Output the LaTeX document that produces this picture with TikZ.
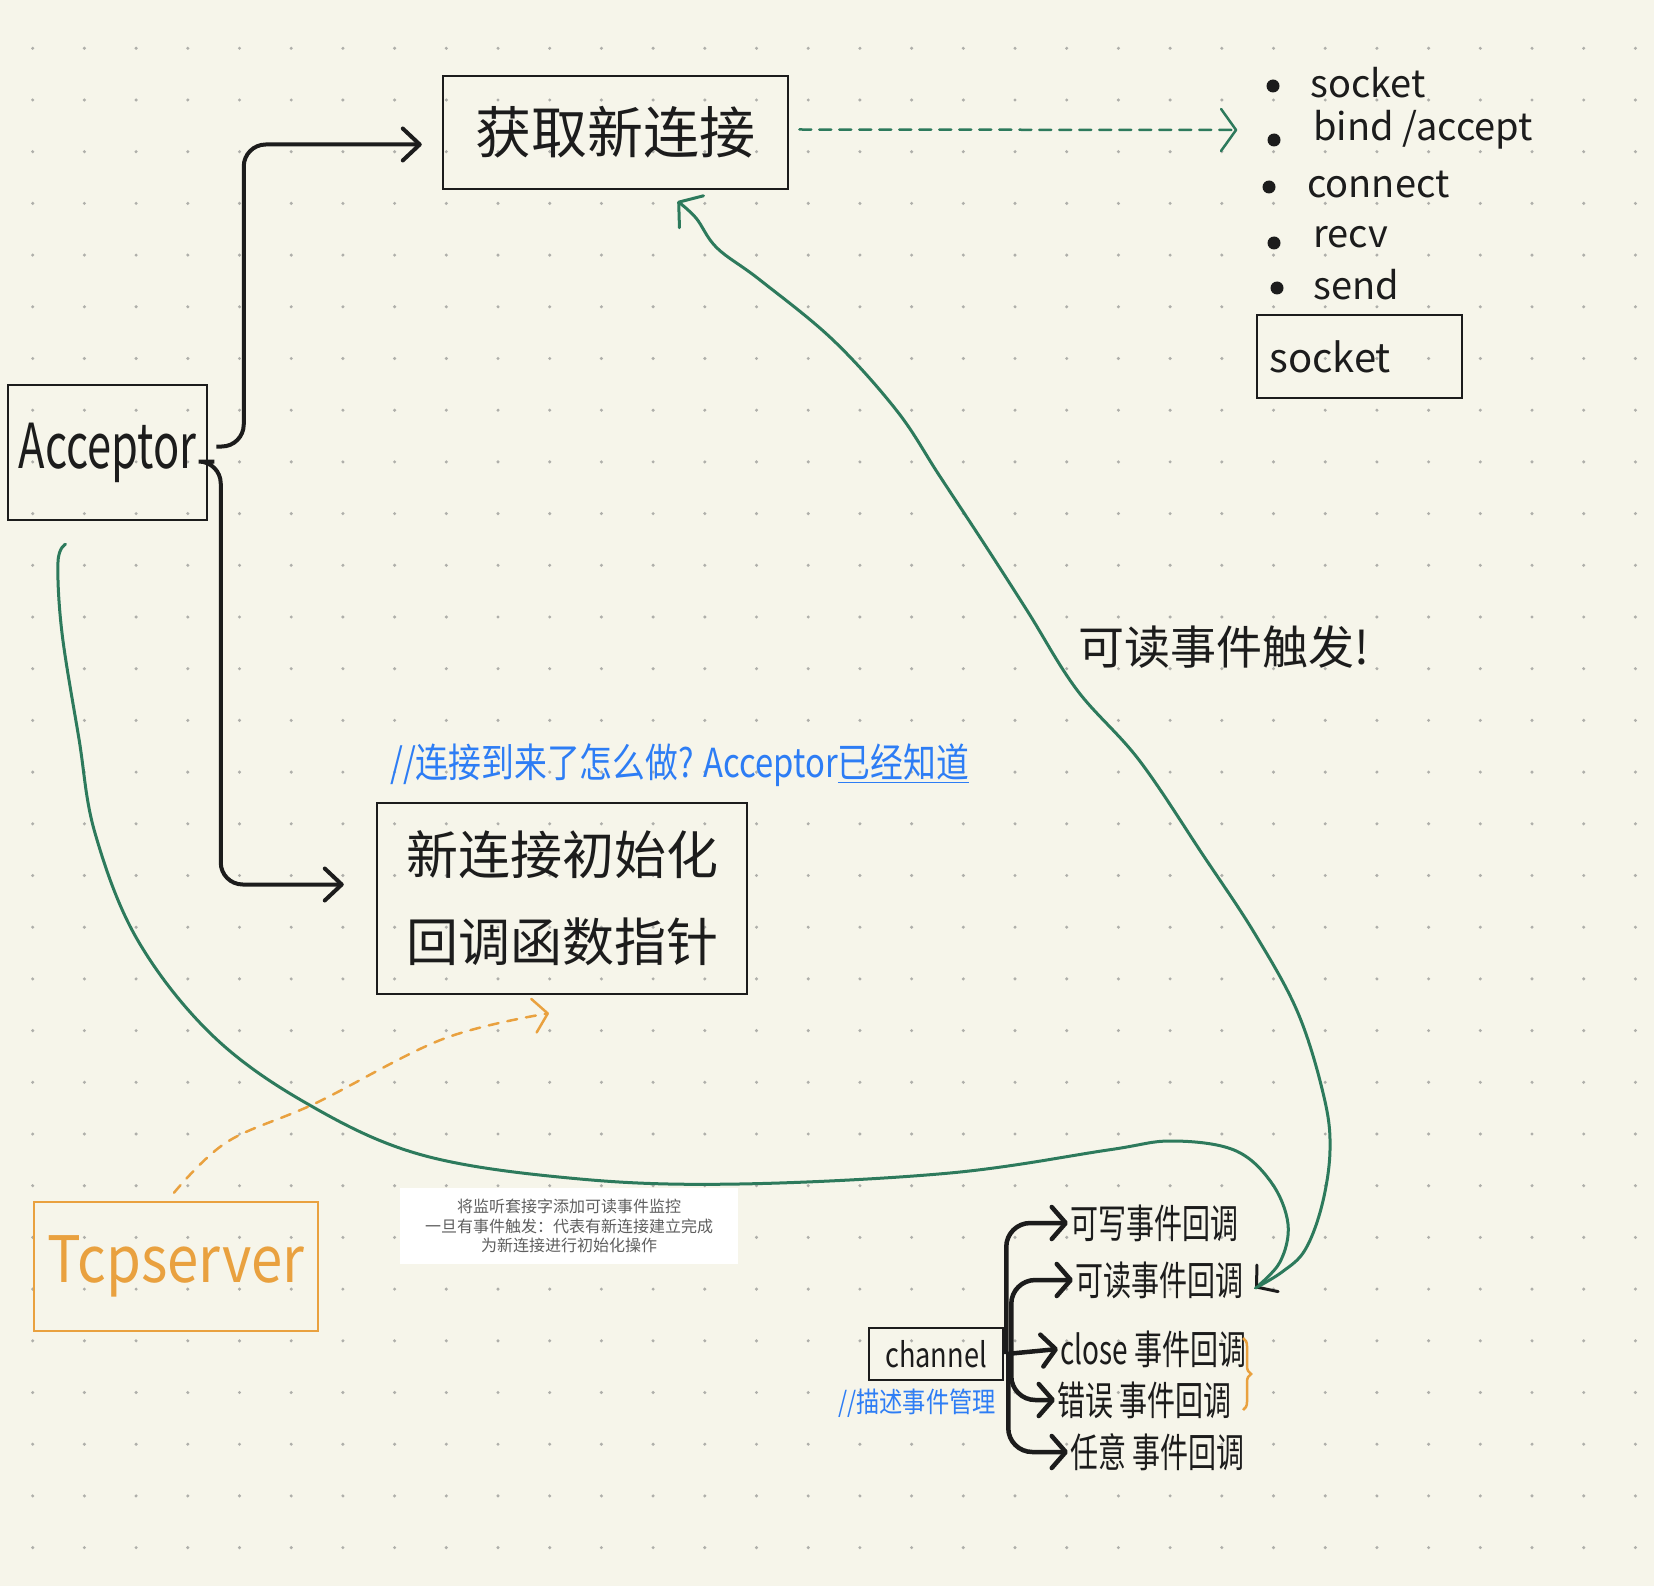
\documentclass[tikz,border=0pt]{standalone}
\usepackage{fontspec}
\setmainfont{Noto Sans CJK SC}
\usetikzlibrary{arrows.meta,calc,decorations.pathreplacing}
\definecolor{paper}{RGB}{246,245,234}
\definecolor{dotc}{RGB}{175,175,170}
\definecolor{ink}{RGB}{28,28,28}
\definecolor{gc}{RGB}{45,122,92}
\definecolor{oc}{RGB}{233,161,63}
\definecolor{bc}{RGB}{45,125,245}
\definecolor{gt}{RGB}{95,95,95}
\newcommand\cz[2]{\scalebox{#1}[1]{#2}}
\begin{document}
\begin{tikzpicture}[x=1pt,y=-1pt,
  box/.style={draw=ink, line width=2.5pt, inner sep=0pt, text=ink},
  conn/.style={draw=ink, line width=4pt, rounded corners=22pt, -{Straight Barb[length=17pt,width=32pt,round]}},
  br/.style={draw=ink, line width=4.5pt, rounded corners=24pt, -{Straight Barb[length=14pt,width=32pt,round]}},
  ev/.style={anchor=west, inner sep=2pt, text=ink, font=\fontsize{40}{40}\selectfont},
  item/.style={anchor=west, inner sep=0pt, text=ink, font=\fontsize{38}{38}\selectfont},
  bul/.style={circle, fill=ink, minimum size=13pt, inner sep=0pt},
  green/.style={draw=gc, line width=3pt, line cap=round},
]
\fill[paper] (0,0) rectangle (1654,1586);
\useasboundingbox (0,0) rectangle (1654,1586);
\foreach \i in {0,...,31}{\foreach \j in {0,...,29}{
  \fill[dotc] (32.7+51.7*\i, 48.3+51.7*\j) circle[radius=1.7pt];}}

% boxes
\node[box, minimum width=345pt, minimum height=113pt, font=\fontsize{56}{56}\selectfont] (get) at (615.5,132.5)
  {获取新连接};
\node[box, minimum width=199pt, minimum height=135pt, font=\fontsize{62}{62}\selectfont] (acc) at (107.5,452.5)
  {\cz{0.7}{Acceptor}};
\node[box, minimum width=370pt, minimum height=191pt, align=center, font=\fontsize{52}{87}\selectfont] (init) at (562,898.5)
  {新连接初始化\\回调函数指针};
\node[box, minimum width=205pt, minimum height=83pt, font=\fontsize{40}{40}\selectfont] (sock) at (1359.5,356.5)
  {\makebox[180pt][l]{socket}};
\node[box, draw=oc, text=oc, minimum width=284pt, minimum height=129pt, font=\fontsize{64}{64}\selectfont] (tcp) at (176,1266.5)
  {\cz{0.88}{Tcpserver}};
\node[fill=white, minimum width=338pt, minimum height=76pt, align=center, text=gt,
  font=\fontsize{16}{19.5}\selectfont] (note) at (569,1226)
  {将监听套接字添加可读事件监控\\一旦有事件触发：代表有新连接建立完成\\为新连接进行初始化操作};
\node[box, minimum width=134pt, minimum height=52pt, font=\fontsize{34}{34}\selectfont] (ch) at (936,1354)
  {\cz{0.8}{channel}};

% bullet list
\node[bul] (b1) at (1273,86) {};
\node[bul] (b2) at (1274,140) {};
\node[bul] (b3) at (1269,187) {};
\node[bul] (b4) at (1274,243) {};
\node[bul] (b5) at (1277,288) {};
\node[item] (t1) at (1310,83) {socket};
\node[item] (t2) at (1313,130) {bind /accept};
\node[item] (t3) at (1307,185) {connect};
\node[item] (t4) at (1313,237) {recv};
\node[item] (t5) at (1313,285) {send};

% texts
\node[anchor=west, inner sep=0pt, text=bc, font=\fontsize{40}{40}\selectfont] (q) at (390,765)
  {\cz{0.82}{//连接到来了怎么做? Acceptor\underline{已经知道}}};
\node[anchor=west, inner sep=0pt, text=bc, font=\fontsize{28}{28}\selectfont] (d) at (838,1403)
  {\cz{0.83}{//描述事件管理}};
\node[anchor=west, inner sep=0pt, text=ink, font=\fontsize{46}{46}\selectfont] (trig) at (1078,647)
  {可读事件触发!};

% event callbacks
\node[ev] (w1) at (1068,1223) {\cz{0.7}{可写事件回调}};
\node[ev] (w2) at (1073,1280) {\cz{0.7}{可读事件回调}};
\node[ev] (w3) at (1058,1349) {\cz{0.7}{close 事件回调}};
\node[ev] (w4) at (1055,1400) {\cz{0.7}{错误 事件回调}};
\node[ev] (w5) at (1068,1452) {\cz{0.7}{任意 事件回调}};

% Acceptor connectors
\draw[conn] ($(acc.east)+(8,-6)$) -| ($(get.west)+(-198,12)$) -- ($(get.west)+(-20,12)$);
\draw[conn] ($(acc.east)+(6,9)$) -| ($(init.west)+(-155,-14)$) -- ($(init.west)+(-32,-14)$);

% channel branches
\draw[br] ($(ch.east)+(2,0)$) |- (w1.west);
\draw[br] ($(ch.east)+(7,0)$) |- (w2.west);
\draw[br] ($(ch.east)+(2,0)$) -- (w3.west);
\draw[br] ($(ch.east)+(7,0)$) |- (w4.west);
\draw[br] ($(ch.east)+(4,0)$) |- (w5.west);

% brace
\draw[draw=oc, line width=2.5pt, decorate, decoration={brace, amplitude=8pt}] (1243,1338) -- (1243,1410);

% dashed green to socket API list
\draw[green, line width=2.5pt, dash pattern=on 12pt off 8pt, -{Straight Barb[length=15pt,width=42pt,round]}]
  ($(get.east)+(10,-3)$) -- ($(b2.west)+(-30,-10)$);

% green curves
\coordinate (gs) at ($(acc.south)+(-42,23)$);
\coordinate (rd) at ($(w2.east)+(10,8)$);
\coordinate (gt) at ($(get.south)+(62,11)$);
\draw[green, -{Straight Barb[length=14pt,width=34pt,color=ink,round]}] plot[smooth, tension=0.6] coordinates {
  (gs) (58,562) (62,633) (79,739) (95,833) (137,939) (211,1034) (306,1103) (422,1155)
  (580,1179) (739,1184) (950,1173) (1108,1150) (1171,1141) (1234,1150) (1271,1182)
  (1288,1224) (1280,1262) (rd)};
\draw[green, -{Straight Barb[length=16pt,width=40pt,round]}] plot[smooth, tension=0.6] coordinates {
  (rd) (1282,1272) (1305,1250) (1322,1205) (1330,1150) (1324,1097) (1298,1013)
  (1255,934) (1203,855) (1139,760) (1077,690) (1028,612) (985,545) (939,475)
  (897,411) (833,340) (760,280) (717,248) (696,218) (gt)};

% orange dashed
\coordinate (ts) at ($(tcp.north)+(-2,-8)$);
\coordinate (te) at ($(init.south)+(-13,18)$);
\draw[draw=oc, line width=2.5pt, line cap=round, dash pattern=on 10pt off 9pt, -{Straight Barb[length=14pt,width=34pt,round]}]
  plot[smooth, tension=0.6] coordinates {(ts) (227,1142) (316,1103) (443,1039) (te)};
\end{tikzpicture}
\end{document}
